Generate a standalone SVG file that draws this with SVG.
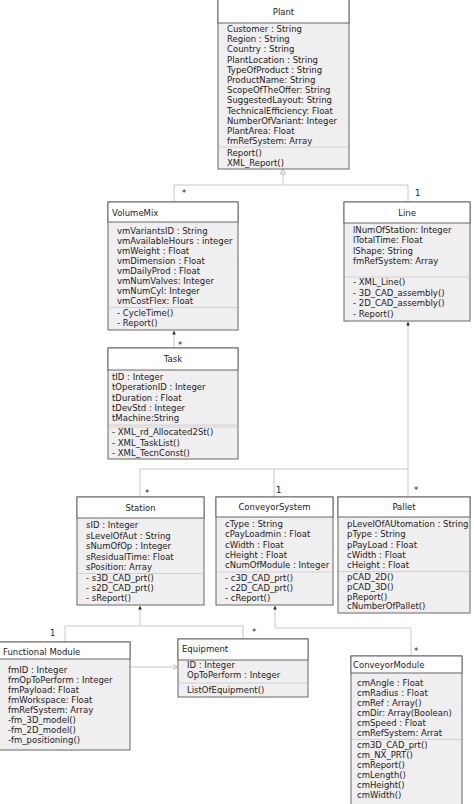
<svg xmlns="http://www.w3.org/2000/svg" width="474" height="804" viewBox="0 0 474 804">
<defs>
<style>
.box{fill:#efefef;stroke:#666;stroke-width:1}
.hd{fill:#ffffff;stroke:#666;stroke-width:1}
.dv{stroke:#d2d2d2;stroke-width:1}
text{font-family:"DejaVu Sans",Verdana,sans-serif;font-size:8.5px;fill:#222}
.c{text-anchor:middle}
.con{fill:none;stroke:#c8c8c8;stroke-width:1}
.lbl{font-size:8.5px}
</style>
<marker id="fa" viewBox="0 0 6 6" refX="3" refY="0" markerWidth="6" markerHeight="6" orient="auto-start-reverse" markerUnits="userSpaceOnUse">
<path d="M1.5,0 L4.5,0 L3,-3 Z" fill="#222"/>
</marker>
</defs>
<rect width="474" height="804" fill="#ffffff"/>

<g id="connectors">
<!-- Plant generalization -->
<polyline class="con" points="174,202 174,185 408,185 408,202"/>
<line class="con" x1="283" y1="185" x2="283" y2="174"/>
<path d="M283,169.5 L280.5,174 L285.5,174 Z" fill="#fff" stroke="#aaa" stroke-width="0.8"/>
<text x="182" y="196" class="lbl">*</text>
<text x="415" y="196" class="lbl">1</text>
<!-- VolumeMix - Task -->
<line class="con" x1="174" y1="334" x2="174" y2="348"/>
<path d="M174,330.5 L172.3,334.5 L175.7,334.5 Z" fill="#222"/>
<text x="178" y="348" class="lbl">*</text>
<!-- Line - Station/Conveyor/Pallet -->
<line class="con" x1="408" y1="325" x2="408" y2="469"/>
<path d="M408,321.5 L406.3,325.5 L409.7,325.5 Z" fill="#222"/>
<polyline class="con" points="140,497 140,469 408,469 408,497"/>
<line class="con" x1="274" y1="469" x2="274" y2="497"/>
<text x="145" y="496" class="lbl">*</text>
<text x="276" y="493" class="lbl">1</text>
<text x="414" y="493" class="lbl">*</text>
<!-- Station - FM/Equipment -->
<line class="con" x1="140" y1="609" x2="140" y2="626"/>
<path d="M140,605.5 L138.3,609.5 L141.7,609.5 Z" fill="#222"/>
<polyline class="con" points="65,642 65,626 243,626 243,639"/>
<text x="50" y="636" class="lbl">1</text>
<text x="252" y="635" class="lbl">*</text>
<!-- FM - Equipment -->
<line class="con" x1="130" y1="667" x2="177" y2="667"/>
<polyline points="173,664.5 177.5,667 173,669.5" fill="none" stroke="#b0b0b0" stroke-width="0.8"/>
<!-- ConveyorSystem - ConveyorModule -->
<polyline class="con" points="275,609 275,628 411,628 411,656"/>
<path d="M275,605.5 L273.3,609.5 L276.7,609.5 Z" fill="#222"/>
<text x="414" y="654" class="lbl">*</text>
</g>

<g id="plant">
<rect class="box" x="218" y="-1" width="131" height="170"/>
<rect class="hd" x="218" y="-1" width="131" height="24"/>
<text x="283.5" y="15" class="c">Plant</text>
<text x="227" y="32">Customer : String</text>
<text x="227" y="42.2">Region : String</text>
<text x="227" y="52.4">Country : String</text>
<text x="227" y="62.6">PlantLocation : String</text>
<text x="227" y="72.8">TypeOfProduct : String</text>
<text x="227" y="83">ProductName: String</text>
<text x="227" y="93.2">ScopeOfTheOffer: String</text>
<text x="227" y="103.4">SuggestedLayout: String</text>
<text x="227" y="113.6">TechnicalEfficiency: Float</text>
<text x="227" y="123.8">NumberOfVariant: Integer</text>
<text x="227" y="134">PlantArea: Float</text>
<text x="227" y="144.2">fmRefSystem: Array</text>
<line class="dv" x1="219" y1="147" x2="348" y2="147"/>
<text x="227" y="155.5">Report()</text>
<text x="227" y="165.5">XML_Report()</text>
</g>

<g id="volumemix">
<rect class="box" x="108" y="202" width="130" height="128"/>
<rect class="hd" x="108" y="202" width="130" height="20"/>
<text x="112" y="216">VolumeMix</text>
<text x="117" y="234">vmVariantsID : String</text>
<text x="117" y="244">vmAvailableHours : integer</text>
<text x="117" y="254">vmWeight : Float</text>
<text x="117" y="264">vmDimension : Float</text>
<text x="117" y="274">vmDailyProd : Float</text>
<text x="117" y="284">vmNumValves: Integer</text>
<text x="117" y="294">vmNumCyl: Integer</text>
<text x="117" y="304">vmCostFlex: Float</text>
<line class="dv" x1="109" y1="307.5" x2="237" y2="307.5"/>
<text x="117" y="316">- CycleTime()</text>
<text x="117" y="326">- Report()</text>
</g>

<g id="line">
<rect class="box" x="344" y="202" width="126" height="119"/>
<rect class="hd" x="344" y="202" width="126" height="21"/>
<text x="407" y="216" class="c">Line</text>
<text x="353" y="233">lNumOfStation: Integer</text>
<text x="353" y="243.3">lTotalTime: Float</text>
<text x="353" y="253.6">lShape: String</text>
<text x="353" y="264">fmRefSystem: Array</text>
<line class="dv" x1="345" y1="277" x2="469" y2="277"/>
<text x="353" y="285">- XML_Line()</text>
<text x="353" y="295.7">- 3D_CAD_assembly()</text>
<text x="353" y="306.3">- 2D_CAD_assembly()</text>
<text x="353" y="317">- Report()</text>
</g>

<g id="task">
<rect class="box" x="108" y="348" width="130" height="111"/>
<rect class="hd" x="108" y="348" width="130" height="22"/>
<text x="173" y="362" class="c">Task</text>
<text x="112" y="380">tID : Integer</text>
<text x="112" y="390.3">tOperationID : Integer</text>
<text x="112" y="400.6">tDuration : Float</text>
<text x="112" y="410.9">tDevStd : Integer</text>
<text x="112" y="421.2">tMachine:String</text>
<line class="dv" x1="109" y1="425" x2="237" y2="425"/>
<line class="dv" x1="109" y1="427" x2="237" y2="427"/>
<text x="112" y="435">- XML_rd_Allocated2St()</text>
<text x="112" y="445.5">- XML_TaskList()</text>
<text x="112" y="456">- XML_TecnConst()</text>
</g>

<g id="station">
<rect class="box" x="77" y="497" width="127" height="108"/>
<rect class="hd" x="77" y="497" width="127" height="21"/>
<text x="140.5" y="511" class="c">Station</text>
<text x="86" y="528">sID : Integer</text>
<text x="86" y="538.5">sLevelOfAut : String</text>
<text x="86" y="549">sNumOfOp : Integer</text>
<text x="86" y="559.5">sResidualTime: Float</text>
<text x="86" y="570">sPosition: Array</text>
<line class="dv" x1="78" y1="573.5" x2="203" y2="573.5"/>
<text x="86" y="581">- s3D_CAD_prt()</text>
<text x="86" y="591">- s2D_CAD_prt()</text>
<text x="86" y="601">- sReport()</text>
</g>

<g id="conveyorsystem">
<rect class="box" x="216" y="497" width="117" height="108"/>
<rect class="hd" x="216" y="497" width="117" height="20"/>
<text x="274.5" y="510" class="c">ConveyorSystem</text>
<text x="225" y="527">cType : String</text>
<text x="225" y="537.3">cPayLoadmin : Float</text>
<text x="225" y="547.5">cWidth : Float</text>
<text x="225" y="557.8">cHeight : Float</text>
<text x="225" y="568">cNumOfModule : Integer</text>
<line class="dv" x1="217" y1="572" x2="332" y2="572"/>
<text x="225" y="581">- c3D_CAD_prt()</text>
<text x="225" y="591">- c2D_CAD_prt()</text>
<text x="225" y="600.5">- cReport()</text>
</g>

<g id="pallet">
<rect class="box" x="338" y="497" width="132" height="116"/>
<rect class="hd" x="338" y="497" width="132" height="20"/>
<text x="404" y="510" class="c">Pallet</text>
<text x="347" y="527">pLevelOfAUtomation : String</text>
<text x="347" y="537.3">pType : String</text>
<text x="347" y="547.5">pPayLoad : Float</text>
<text x="347" y="557.8">cWidth : Float</text>
<text x="347" y="568">cHeight : Float</text>
<line class="dv" x1="339" y1="571.5" x2="469" y2="571.5"/>
<text x="347" y="580">pCAD_2D()</text>
<text x="347" y="590">pCAD_3D()</text>
<text x="347" y="600">pReport()</text>
<text x="347" y="609">cNumberOfPallet()</text>
</g>

<g id="functionalmodule">
<rect class="box" x="-1" y="642" width="131" height="108"/>
<rect class="hd" x="-1" y="642" width="131" height="17"/>
<text x="3" y="655">Functional Module</text>
<text x="8" y="673">fmID : Integer</text>
<text x="8" y="683">fmOpToPerform : Integer</text>
<text x="8" y="693">fmPayload: Float</text>
<text x="8" y="703">fmWorkspace: Float</text>
<text x="8" y="713">fmRefSystem: Array</text>
<text x="8" y="723">-fm_3D_model()</text>
<text x="8" y="733">-fm_2D_model()</text>
<text x="8" y="743">-fm_positioning()</text>
</g>

<g id="equipment">
<rect class="box" x="178" y="639" width="130" height="58"/>
<rect class="hd" x="178" y="639" width="130" height="21"/>
<text x="182" y="652">Equipment</text>
<text x="187" y="668">ID : Integer</text>
<text x="187" y="678">OpToPerform : Integer</text>
<line class="dv" x1="179" y1="683" x2="307" y2="683"/>
<text x="187" y="693">ListOfEquipment()</text>
</g>

<g id="conveyormodule">
<rect class="box" x="351" y="656" width="111" height="160"/>
<rect class="hd" x="351" y="656" width="111" height="17"/>
<text x="353" y="668">ConveyorModule</text>
<text x="357" y="686">cmAngle : Float</text>
<text x="357" y="696">cmRadius : Float</text>
<text x="357" y="706">cmRef : Array()</text>
<text x="357" y="716">cmDir: Array(Boolean)</text>
<text x="357" y="726">cmSpeed : Float</text>
<text x="357" y="736">cmRefSystem: Arrat</text>
<line class="dv" x1="352" y1="739.5" x2="461" y2="739.5"/>
<text x="357" y="748">cm3D_CAD_prt()</text>
<text x="357" y="758">cm_NX_PRT()</text>
<text x="357" y="768">cmReport()</text>
<text x="357" y="778">cmLength()</text>
<text x="357" y="788">cmHeight()</text>
<text x="357" y="798">cmWidth()</text>
</g>
</svg>
